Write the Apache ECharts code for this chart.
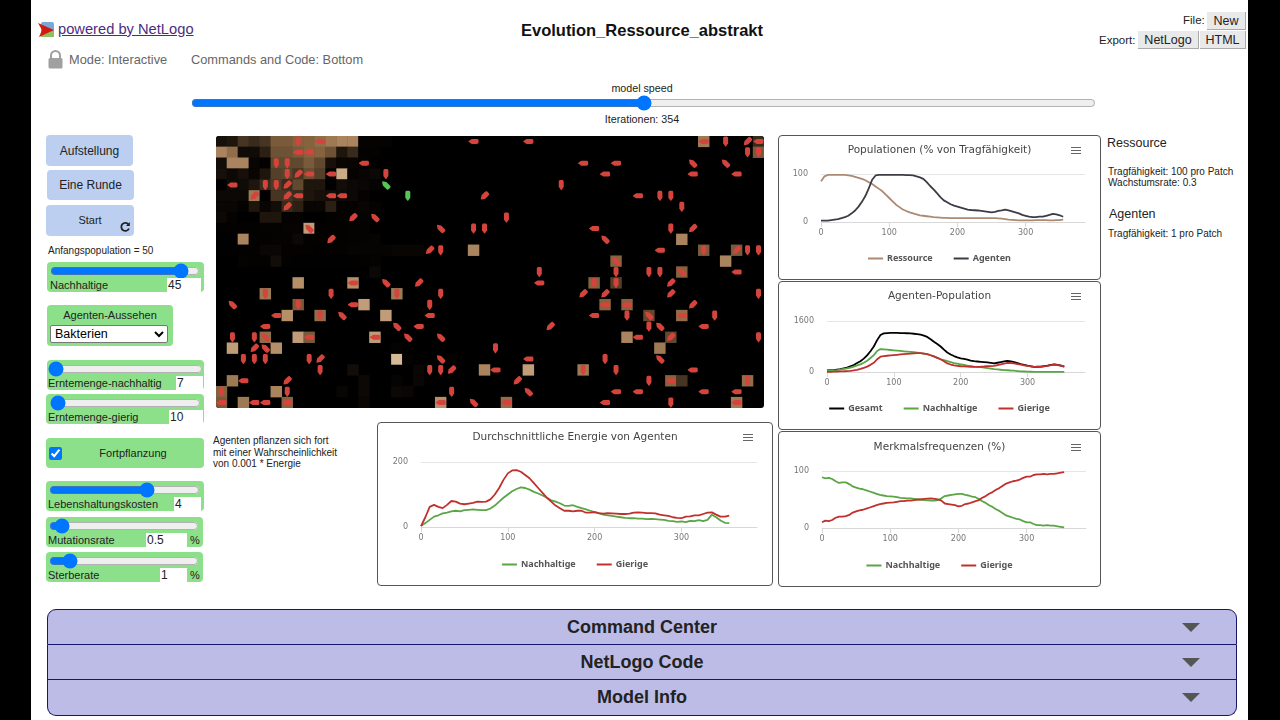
<!DOCTYPE html>
<html>
<head>
<meta charset="utf-8">
<title>Evolution_Ressource_abstrakt</title>
<script src="https://cdn.jsdelivr.net/npm/echarts@6/dist/echarts.min.js"></script>
<style>
html, body { margin: 0; padding: 0; width: 1280px; height: 720px; overflow: hidden; background: #000; }
#page { position: absolute; left: 31px; top: 0; width: 1217px; height: 720px; background: #fff; }
.a { position: absolute; white-space: nowrap; font-family: "Liberation Sans", Arial, sans-serif; line-height: 1; color: #222; }
.btn { position: absolute; background: #bccff0; border-radius: 4px; text-align: center; font: 12px "Liberation Sans", Arial, sans-serif; color: #222; }
.gbtn { position: absolute; background: #e9e9e9; border-right: 1px solid #aaa; border-bottom: 1px solid #aaa; text-align: center; font: 12.5px/19px "Liberation Sans", Arial, sans-serif; color: #222; }
.wid { position: absolute; background: #8de08a; border-radius: 4px; }
.val { position: absolute; background: #fff; font: 12px/15px "Liberation Sans", Arial, sans-serif; color: #222; padding-left: 1px; }
.lbl { position: absolute; font: 11px "Liberation Sans", Arial, sans-serif; line-height: 1; color: #222; white-space: nowrap; }
input[type=range] { position: absolute; margin: 0; height: 16px; }
.box { position: absolute; background: #fff; border: 1px solid #555; border-radius: 4px; box-sizing: border-box; }
.bar { position: absolute; left: 47px; width: 1190px; height: 35px; background: #bcbce6; box-sizing: border-box; border-left: 1px solid #16166a; border-right: 1px solid #16166a; border-bottom: 1px solid #16166a; text-align: center; font: bold 18px/35px "Liberation Sans", Arial, sans-serif; color: #222; }
.tri { position: absolute; left: 1182px; width: 0; height: 0; border-left: 9px solid transparent; border-right: 9px solid transparent; border-top: 9px solid #555; }
</style>
</head>
<body>
<div id="page"></div>

<!-- kopfzeile -->
<svg style="position:absolute;left:38px;top:21px" width="17" height="17" viewBox="0 0 17 17">
  <rect x="3" y="1" width="13" height="15" rx="2" fill="#7aa7d8"/><rect x="3" y="11" width="13" height="5" fill="#8fc060"/>
  <path d="M0 2 L16 9 L1 16 L4 9 Z" fill="#d01c10"/>
</svg>
<div class="a" style="left:58px;top:22px;font-size:14.7px;color:#4b2d7f;text-decoration:underline">powered by NetLogo</div>
<svg style="position:absolute;left:48px;top:50px" width="15" height="19" viewBox="0 0 15 19">
  <path d="M3 9 V5.5 A4.5 4.5 0 0 1 12 5.5 V9" fill="none" stroke="#a0a0a0" stroke-width="2"/>
  <rect x="0.5" y="8" width="14" height="10.5" rx="1.5" fill="#a0a0a0"/>
</svg>
<div class="a" style="left:69px;top:54px;font-size:12.8px;color:#666">Mode: Interactive</div>
<div class="a" style="left:191px;top:54px;font-size:12.8px;color:#666">Commands and Code: Bottom</div>
<div class="a" style="left:342px;width:600px;text-align:center;top:22px;font-size:16.5px;font-weight:bold;color:#111">Evolution_Ressource_abstrakt</div>
<div class="a" style="left:1183px;top:15px;font-size:11.5px">File:</div>
<div class="gbtn" style="left:1207px;top:12px;width:38px;height:17px">New</div>
<div class="a" style="left:1099px;top:35px;font-size:11.5px">Export:</div>
<div class="gbtn" style="left:1138px;top:31px;width:60px;height:17px">NetLogo</div>
<div class="gbtn" style="left:1200px;top:31px;width:45px;height:17px">HTML</div>

<!-- geschwindigkeit -->
<div class="a" style="left:342px;width:600px;text-align:center;top:83px;font-size:10.7px">model speed</div>
<input type="range" style="left:191px;top:95px;width:905px" min="0" max="100" value="50">
<div class="a" style="left:342px;width:600px;text-align:center;top:114px;font-size:10.7px">Iterationen: 354</div>

<!-- linke spalte -->
<div class="btn" style="left:46px;top:135px;width:87px;height:31px;line-height:32px">Aufstellung</div>
<div class="btn" style="left:47px;top:170px;width:87px;height:30px;line-height:31px">Eine Runde</div>
<div class="btn" style="left:46px;top:205px;width:88px;height:31px;line-height:30px;font-size:11px">Start</div>
<svg style="position:absolute;left:119px;top:221px" width="12" height="12" viewBox="0 0 12 12">
  <path d="M9.5 3.5 A4 4 0 1 0 10 7.5" fill="none" stroke="#222" stroke-width="1.8"/><path d="M10.8 1 V5 H7 Z" fill="#222"/>
</svg>
<div class="a" style="left:48px;top:246px;font-size:10px">Anfangspopulation = 50</div>

<div class="wid" style="left:47px;top:262px;width:157px;height:30px"></div>
<input type="range" style="left:50px;top:263px;width:150px" min="0" max="50" value="46">
<div class="val" style="left:167px;top:278px;width:33px;height:14px">45</div>
<div class="lbl" style="left:50px;top:280px">Nachhaltige</div>

<div class="wid" style="left:47px;top:305px;width:126px;height:41px"></div>
<div class="lbl" style="left:47px;width:126px;text-align:center;top:310px">Agenten-Aussehen</div>
<select style="position:absolute;left:50px;top:325px;width:118px;height:18px;font:12.5px 'Liberation Sans',Arial,sans-serif;padding:0;margin:0;border:1px solid #777;border-radius:2px;background:#fff"><option>Bakterien</option></select>

<div class="wid" style="left:47px;top:360px;width:157px;height:30px"></div>
<input type="range" style="left:48px;top:361px;width:155px" min="7" max="100" value="7">
<div class="val" style="left:176px;top:376px;width:26px;height:14px">7</div>
<div class="lbl" style="left:48px;top:378px">Erntemenge-nachhaltig</div>

<div class="wid" style="left:46px;top:394px;width:158px;height:30px"></div>
<input type="range" style="left:50px;top:395px;width:151px" min="10" max="100" value="10">
<div class="val" style="left:169px;top:410px;width:33px;height:14px">10</div>
<div class="lbl" style="left:48px;top:412px">Erntemenge-gierig</div>

<div class="wid" style="left:46px;top:438px;width:158px;height:30px"></div>
<input type="checkbox" checked style="position:absolute;left:49px;top:447px;margin:0;width:13px;height:13px">
<div class="lbl" style="left:58px;width:150px;text-align:center;top:448px">Fortpflanzung</div>

<div class="wid" style="left:46px;top:481px;width:158px;height:30px"></div>
<input type="range" style="left:49px;top:482px;width:151px" min="0" max="6" value="4">
<div class="val" style="left:174px;top:497px;width:26px;height:14px">4</div>
<div class="lbl" style="left:48px;top:499px">Lebenshaltungskosten</div>

<div class="wid" style="left:46px;top:517px;width:157px;height:30px"></div>
<input type="range" style="left:49px;top:518px;width:150px" min="0" max="10" step="0.1" value="0.4">
<div class="val" style="left:146px;top:533px;width:40px;height:14px">0.5</div>
<div class="lbl" style="left:48px;top:535px">Mutationsrate</div>
<div class="lbl" style="left:190px;top:535px">%</div>

<div class="wid" style="left:46px;top:552px;width:157px;height:30px"></div>
<input type="range" style="left:49px;top:553px;width:150px" min="0" max="10" value="1">
<div class="val" style="left:160px;top:568px;width:26px;height:14px">1</div>
<div class="lbl" style="left:48px;top:570px">Sterberate</div>
<div class="lbl" style="left:190px;top:570px">%</div>

<div class="a" style="left:213px;top:435px;font-size:10px;line-height:11.5px">Agenten pflanzen sich fort<br>mit einer Wahrscheinlichkeit<br>von 0.001 * Energie</div>

<!-- rechte spalte -->
<div class="a" style="left:1107px;top:137px;font-size:12.5px">Ressource</div>
<div class="a" style="left:1108px;top:166px;font-size:10px;line-height:11px">Tragfähigkeit: 100 pro Patch<br>Wachstumsrate: 0.3</div>
<div class="a" style="left:1109px;top:208px;font-size:12.5px">Agenten</div>
<div class="a" style="left:1108px;top:229px;font-size:10px">Tragfähigkeit: 1 pro Patch</div>

<!-- welt und plots -->
<div id="world" style="position:absolute;left:216px;top:136px;width:548px;height:272px;background:#000;border-radius:3px;overflow:hidden"></div>
<div class="box" id="c1" style="left:778px;top:135px;width:323px;height:145px"></div>
<div class="box" id="c2" style="left:778px;top:281px;width:323px;height:149px"></div>
<div class="box" id="c3" style="left:778px;top:431px;width:323px;height:156px"></div>
<div class="box" id="c4" style="left:377px;top:422px;width:396px;height:164px"></div>

<!-- untere leisten -->
<div class="bar" style="top:609px;height:36px;border-top:1px solid #16166a;border-radius:9px 9px 0 0">Command Center</div>
<div class="bar" style="top:645px">NetLogo Code</div>
<div class="bar" style="top:680px;height:36px;border-radius:0 0 9px 9px">Model Info</div>
<div class="tri" style="top:623px"></div>
<div class="tri" style="top:658px"></div>
<div class="tri" style="top:693px"></div>

<script>
// ticks der plots, alle 5 iterationen
var ticks = [0,5,10,15,20,25,30,35,40,45,50,55,60,65,70,75,80,85,90,95,100,105,110,115,120,125,130,135,140,145,
	150,155,160,165,170,175,180,185,190,195,200,205,210,215,220,225,230,235,240,245,250,255,260,265,270,275,280,285,290,295,
	300,305,310,315,320,325,330,335,340,345,350,355];

var popRessource = [85,95,98,98,98,98,98,98,97,96,
	94,92,90,87,83,79,74,69,64,57,
	50,43,36,31,26,23,20,18,16,14,
	13,12,11,10,9.5,9,8.5,8.5,8,8,
	8,8,8,8,8,8,8,8,8,8,
	8,8,7.5,7,6,5,4.5,4,3.5,3.5,
	3.5,3.5,3.5,4,4,4,4,3.5,3.5,4,
	4,5];
var popAgenten = [3,3,3,4,5,6,8,10,13,18,
	24,32,42,54,70,88,97,98,98,98,
	98,98,98,98,98,97.5,97.5,97,95,93,
	90,83,75,68,60,52,45,41,37,34,
	32,30,28,26,25,24.5,24,23,22,21,
	20,21,23,24,26,24,22,20,18,15,
	13,11,10,10,11,11,13,15,17,16,
	14,11];

var anzGesamt = [50,55,60,75,90,115,140,180,220,280,
	340,420,520,650,800,1000,1160,1210,1220,1225,
	1225,1225,1220,1220,1215,1210,1200,1190,1170,1140,
	1100,1030,950,880,800,700,610,550,500,460,
	430,410,390,360,340,330,320,310,300,285,
	270,290,310,330,350,335,310,280,250,225,
	200,180,160,165,170,185,200,225,240,225,
	200,170];
var anzNachhaltige = [45,48,50,62,75,95,115,140,170,205,
	240,290,350,440,530,660,720,710,700,690,
	680,670,660,650,640,630,620,605,590,575,
	560,525,490,445,400,370,340,310,280,260,
	240,220,200,185,170,160,150,135,120,105,
	90,80,70,62,55,47,40,30,20,15,
	10,8,5,5,4,4,4,3,3,3,
	2,2];
var anzGierige = [5,7,10,14,20,24,30,38,50,70,
	95,130,170,225,290,400,480,500,510,520,
	530,540,550,560,570,578,585,590,590,578,
	560,525,490,445,400,335,270,235,210,195,
	180,175,170,165,160,162,165,172,180,185,
	190,215,240,265,290,280,270,250,230,210,
	190,175,160,162,165,178,190,215,235,218,
	200,170];

var freqNachhaltige = [89,87,88,86,82,79,80,80,77,73,
	71,69,68,66,64,62,60,58,57,56,
	55.5,55,54,53,52.5,52,52,51,50,50,
	49,48.5,48,48,49,52,56,57,58,59,
	60,60,58,57,55,54,51,47,44,40,
	37,33,30,26,22,20,18,16,15,12,
	10,10,7,5,5,4,5,4,4,3,
	2,1];
var freqGierige = [10,13,12,14,18,20,20,21,23,27,
	29,31,32,34,36,38,40,42,43,44,
	44.5,45,46,47,47,48,48,49,50,50,
	51,51.5,52,51,50,48,43,42,41,40,
	38,39,42,43,45,47,49,53,56,60,
	63,67,70,74,78,80,82,83,85,88,
	90,90,93,94,94,95,94,95,95,96,
	97,98];

var engNachhaltige = [3,12,22,32,36,42,44,48,50,48,
	52,53,54,53,52,52,57,66,78,90,
	100,110,117,122,120,115,108,103,97,90,
	82,78,73,66,65,67,62,58,54,50,
	46,42,38,36,34,32,30,28,27,27,
	26,26,24,25,24,23,22,19,18,16,
	17,15,19,18,21,18,22,38,30,20,
	13,12];
var engGierige = [3,30,62,68,62,58,68,80,78,72,
	70,72,74,78,77,78,85,100,120,145,
	165,174,175,170,160,150,135,120,105,90,
	78,66,58,50,50,48,50,50,44,44,
	46,43,41,43,42,41,40,40,41,44,
	45,44,43,43,42,38,36,34,30,28,
	27,32,33,36,36,40,44,45,38,32,
	32,35];

// patches: dichter bereich oben links, zeile fuer zeile ab spalte 0
var patchRows = [
	[15,20,35,30,35,55,55,60,60,65,70,75,75,3,3,3],
	[75,65,10,10,25,50,50,55,60,60,50,20,30,2,2],
	[12,75,75,5,2,45,45,45,55,45,15,5,5,3],
	[15,8,15,5,20,40,42,35,48,40,2,90,3,5,8],
	[0,10,10,20,30,38,30,45,20,20,0,12,8,6,4],
	[8,8,8,70,0,35,35,30,20,15,12,10,8,3],
	[6,6,3,20,5,12,30,25,5,5,25,3,3,5,3],
	[8,3,0,0,20,20,3,3,0,0,2,3,3,4],
	[2,2,2,2,3,3,4,4,85,2,2,2,3,3],
	[1,1,75,2,2,3,3,8,2,2,2,2,3,3,4],
	[1,1,2,2,6,6,2,2,2,1,2,2,4,4,4,4,5,5,5],
	[0,0,3,2,2,12,2,1,1,1,1,1,1,2,3]
];
// einzelne patches: [spalte, zeile, ressource]
var patchSpots = [[23,10,75],[44,0,70],[49,0,30],[49,1,55],[42,9,75],[44,10,55],[47,10,55],[46,11,75],[36,11,60],[42,12,60],[14,12,8],
	[7,13,80],[12,13,80],[4,14,70],[16,14,70],[7,15,55],[13,15,85],[6,16,80],[9,16,65],[15,16,85],
	[4,18,65],[7,18,85],[8,18,55],[14,18,85],[1,19,85],[5,19,80],[16,20,95],[24,21,75],[1,22,70],
	[0,23,60],[5,23,75],[0,24,55],[2,24,70],[6,24,60],[20,24,80],
	[12,21,12],[13,22,8],[13,23,8],[11,23,5],[16,23,8],[17,23,6],[18,21,6],[18,22,6],[16,22,4],[13,24,6],[21,20,4],[17,20,3],[16,19,3],
	[34,13,60],[36,13,40],[35,15,60],[37,15,60],[39,16,45],[42,16,65],[37,18,75],[41,18,45],[40,19,70],
	[28,21,85],[33,21,70],[41,22,60],[42,22,35],[48,22,65],[26,24,65],[47,24,70]];

// agenten: [spalte, zeile, heading]
var agentsRed = [[7,0,0],[9,0,90],[23,0,90],[7,1,90],[8,1,90],[5,2,0],[6,2,0],[13,2,90],[6,3,0],[7,3,45],[8,3,90],[10,3,90],[15,3,0],
	[1,4,90],[4,4,0],[5,4,0],[6,4,45],[3,5,45],[6,5,45],[7,5,90],[10,5,90],[11,5,90],[24,5,45],[6,6,45],[12,7,45],[14,7,135],
	[8,8,135],[20,8,135],[23,8,0],[24,8,0],[10,9,45],[19,10,45],[20,10,0],
	[28,0,90],[44,0,90],[46,0,0],[48,0,45],[49,0,90],[48,1,0],[49,1,0],[33,2,90],[36,2,90],[43,2,135],[46,2,135],[35,3,90],[43,3,90],[47,3,90],
	[31,4,0],[38,5,90],[40,5,0],[41,5,0],[42,6,0],[26,7,0],[34,8,90],[41,8,0],[43,8,45],[35,9,135],[40,10,90],[44,10,0],[47,10,45],[48,10,0],[49,10,0],
	[36,11,135],[29,12,0],[36,12,0],[39,12,0],[40,12,0],[42,12,135],[47,12,90],
	[12,13,90],[15,13,135],[18,13,45],[4,14,0],[10,14,0],[16,14,0],[20,14,0],[1,15,135],[7,15,0],[12,15,90],[19,15,0],
	[5,16,90],[9,16,0],[11,16,135],[19,16,90],[4,17,90],[16,17,135],[18,17,90],[1,18,0],[3,18,0],[4,18,135],[8,18,90],[14,18,90],[17,18,135],[20,18,135],
	[3,19,45],[4,19,135],[2,20,0],[3,20,0],[4,20,0],[8,20,0],[9,20,45],[20,20,135],[9,21,0],[19,21,0],[20,21,0],[21,21,45],
	[2,22,90],[6,22,45],[0,23,0],[6,23,0],[21,23,0],[0,24,90],[3,24,90],[4,24,90],[6,24,90],[20,24,90],[23,24,135],
	[29,13,90],[34,13,0],[36,13,0],[41,13,45],[33,14,45],[35,14,45],[41,14,45],[49,14,0],[35,15,90],[37,15,90],[43,15,45],
	[34,16,90],[37,16,0],[39,16,135],[42,16,90],[45,16,0],[30,17,45],[39,17,0],[40,17,135],[44,17,90],[38,18,90],[41,18,45],[49,18,0],
	[25,19,0],[28,20,90],[35,20,0],[40,20,135],[25,21,90],[33,21,0],[36,21,0],[43,21,90],[27,22,45],[39,22,0],[41,22,90],[48,22,0],
	[28,23,135],[36,23,90],[38,23,90],[44,23,90],[47,23,90],[26,24,90],[35,24,90],[41,24,0],[47,24,90]];
var agentsGreen = [[15,4,135],[17,5,0]];

var worldCols = [];
for (var i = 0; i < 50; i++) worldCols.push(i);
var worldRows = [];
for (var j = 0; j < 25; j++) worldRows.push(j);

function echart_world() {
	var myChart = echarts.init(document.getElementById('world'));
	var cells = [];
	patchRows.forEach(function (row, r) {
		row.forEach(function (v, c) { cells.push([c, r, v]); });
	});
	patchSpots.forEach(function (p) { cells.push(p); });
	function agentSeries(list, color) {
		return {
			type: 'scatter',
			silent: true,
			// stabfoermig, nach unten spitz
			symbol: 'path://M36,0 L64,0 C76,0 80,10 80,22 L80,68 L54,100 L46,100 L20,68 L20,22 C20,10 24,0 36,0 Z',
			symbolSize: [5, 10],
			symbolKeepAspect: false,
			symbolRotate: function (v) { return -v[2]; },
			itemStyle: { color: color, opacity: 1 },
			data: list
		};
	}
	myChart.setOption({
		animation: false,
		grid: { left: 0, right: 0, top: 0, bottom: 0 },
		xAxis: { type: 'category', data: worldCols, show: false },
		yAxis: { type: 'category', data: worldRows, show: false, inverse: true },
		visualMap: {
			show: false, seriesIndex: 0, min: 0, max: 100, dimension: 2,
			inRange: { color: ['#000000', '#1e150d', '#54402a', '#85633f', '#b58f68', '#e0c8a8'] }
		},
		series: [
			{ type: 'heatmap', silent: true, data: cells, progressive: 0 },
			agentSeries(agentsRed, '#d4443c'),
			agentSeries(agentsGreen, '#58c458')
		]
	});
}

// gemeinsamer aufbau der vier plots
function echart_plot(id, titleText, titleTop, ymax, gridOpt, xmax, legendTop, lines) {
	var el = document.getElementById(id);
	var myChart = echarts.init(el);
	var w = el.clientWidth;
	var menu = [0, 1, 2].map(function (k) {
		return { type: 'rect', left: w - 29, top: titleTop - 3 + k * 3, shape: { width: 10, height: 1 }, style: { fill: '#666' }, silent: true };
	});
	myChart.setOption({
		animation: false,
		textStyle: { fontFamily: 'DejaVu Sans' },
		title: {
			text: titleText, left: 'center', top: titleTop - 5,
			padding: 0,
			textStyle: { fontFamily: 'DejaVu Sans', fontSize: 10.5, fontWeight: 'normal', color: '#444' }
		},
		grid: gridOpt,
		legend: {
			top: legendTop - 4, left: 'center', itemWidth: 15, itemHeight: 2, itemGap: 21, icon: 'rect',
			padding: 0, selectedMode: false,
			textStyle: { fontFamily: 'Noto Sans', fontSize: 9, fontWeight: 'bold', color: '#555', padding: [0, 0, 0, -1] }
		},
		xAxis: {
			type: 'value', min: 0, max: xmax, interval: 100,
			axisLine: { show: true, lineStyle: { color: '#d8d8d8' } },
			axisTick: { show: true, length: 5, lineStyle: { color: '#d8d8d8' } },
			splitLine: { show: false },
			axisLabel: { fontSize: 8, color: '#777', margin: 7, showMaxLabel: false, fontFamily: 'DejaVu Sans' }
		},
		yAxis: {
			type: 'value', min: 0, max: ymax, interval: ymax,
			axisLine: { show: false }, axisTick: { show: false },
			splitLine: { lineStyle: { color: '#e6e6e6' } },
			axisLabel: { fontSize: 8, color: '#777', margin: 13, fontFamily: 'DejaVu Sans', formatter: function (v) { return String(v); } }
		},
		series: lines.map(function (l) {
			return {
				name: l.name, type: 'line', showSymbol: false, silent: true,
				lineStyle: { width: 1.8, color: l.color }, itemStyle: { color: l.color },
				data: l.data.map(function (v, i) { return [ticks[i], v]; })
			};
		}),
		graphic: menu
	});
}

var colRessource = '#aa8a72', colAgenten = '#3c3c46', colGesamt = '#000000', colGreen = '#5aa545', colRed = '#c0302e';

echart_world();
echart_plot('c1', 'Populationen (% von Tragfähigkeit)', 14, 100,
	{ left: 42, width: 264, top: 38, height: 48 }, 387, 122,
	[{ name: 'Ressource', color: colRessource, data: popRessource }, { name: 'Agenten', color: colAgenten, data: popAgenten }]);
echart_plot('c2', 'Agenten-Population', 14, 1600,
	{ left: 48, width: 258, top: 39, height: 51 }, 386, 126,
	[{ name: 'Gesamt', color: colGesamt, data: anzGesamt }, { name: 'Nachhaltige', color: colGreen, data: anzNachhaltige }, { name: 'Gierige', color: colRed, data: anzGierige }]);
echart_plot('c3', 'Merkmalsfrequenzen (%)', 15, 100,
	{ left: 43, width: 264, top: 39, height: 57 }, 387, 133,
	[{ name: 'Nachhaltige', color: colGreen, data: freqNachhaltige }, { name: 'Gierige', color: colRed, data: freqGierige }]);
echart_plot('c4', 'Durchschnittliche Energie von Agenten', 14, 200,
	{ left: 43, width: 336, top: 39, height: 65 }, 387, 141,
	[{ name: 'Nachhaltige', color: colGreen, data: engNachhaltige }, { name: 'Gierige', color: colRed, data: engGierige }]);
</script>
</body>
</html>
